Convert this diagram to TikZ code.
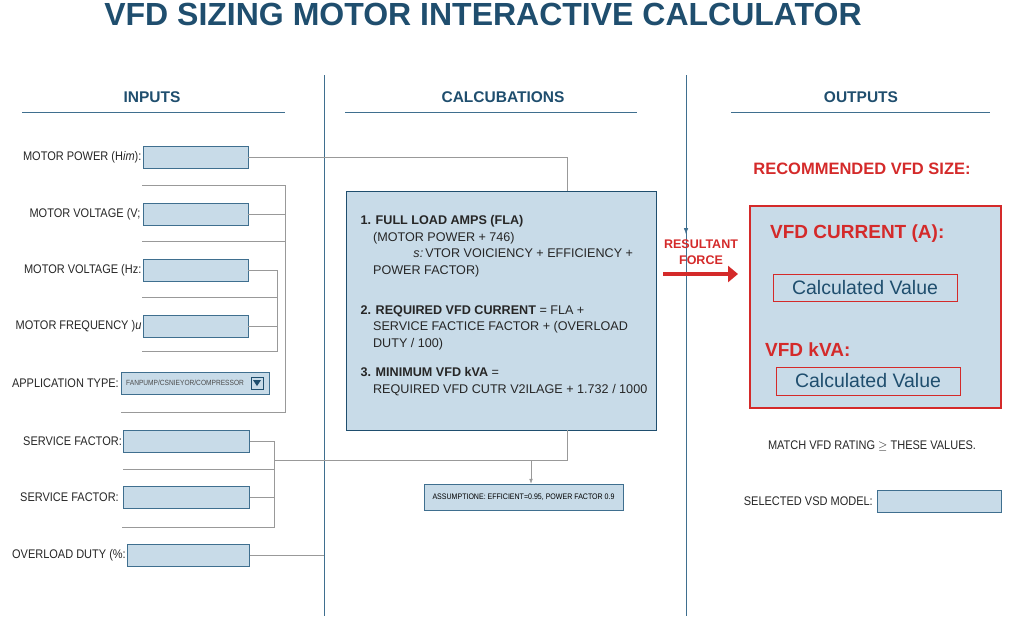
\documentclass[tikz,border=0pt]{standalone}
\usepackage{fontspec}
\setmainfont{Liberation Sans}
\newfontfamily\narrowfont{Liberation Sans}[FakeStretch=0.88]
\usetikzlibrary{positioning,arrows.meta}
\definecolor{navy}{HTML}{1F4E6E}
\definecolor{steel}{HTML}{3F6F8F}
\definecolor{pale}{HTML}{C8DBE8}
\definecolor{alert}{HTML}{D42A2A}
\begin{document}
\begin{tikzpicture}[x=1pt,y=-1pt,>=Latex,
  inbox/.style={draw=steel,fill=pale,thick,minimum width=105pt,minimum height=22pt,inner sep=0pt},
  lbl/.style={font=\narrowfont\fontsize{12.5}{14}\selectfont,text=black!85,inner sep=1pt},
  head/.style={font=\fontsize{15.5}{17}\selectfont\bfseries,text=navy},
  wire/.style={draw=gray!80,thin},
  calc/.style={font=\fontsize{12.6}{16.5}\selectfont,text=black!85,align=left,anchor=north west}]
\useasboundingbox (0,0) rectangle (1024,616);

%Titel und Spalten
\node[font=\fontsize{32}{34}\selectfont\bfseries,text=navy] (title) at (483,14) {VFD SIZING MOTOR INTERACTIVE CALCULATOR};
\draw[steel] (324,75) -- (324,616);
\draw[steel] (686,75) -- (686,616);
\draw[steel,-{Latex[length=6pt]}] (686,75) -- (686,234);
\node[head] (hin) at (152,97) {INPUTS};
\node[head] (hcalc) at (503,97) {CALCUBATIONS};
\node[head] (hout) at (861,97) {OUTPUTS};
\draw[steel] (22,112) -- (285,112);
\draw[steel] (345,112) -- (637,112);
\draw[steel] (731,112) -- (990,112);

%Eingaben
\node[inbox] (power) at (195.5,157) {};
\node[inbox] (volt) at (195.5,214) {};
\node[inbox] (hz) at (195.5,270) {};
\node[inbox] (freq) at (195.5,326) {};
\node[inbox,minimum width=148pt,anchor=west] (app) at (121,383) {};
\node[inbox,minimum width=126pt,anchor=west] (sf1) at (123,441) {};
\node[inbox,minimum width=126pt,anchor=west] (sf2) at (123,497) {};
\node[inbox,minimum width=122pt,anchor=west] (over) at (127,555) {};
\node[lbl,left=0pt of power] {MOTOR POWER (H\textit{im}):};
\node[lbl,left=1pt of volt] {MOTOR VOLTAGE (V;};
\node[lbl,left=0pt of hz] {MOTOR VOLTAGE (Hz:};
\node[lbl,left=0pt of freq] {MOTOR FREQUENCY )\textit{u}};
\node[lbl,left=1pt of app] {APPLICATION TYPE:};
\node[lbl,left=0pt of sf1] {SERVICE FACTOR:};
\node[lbl,left=3pt of sf2] {SERVICE FACTOR:};
\node[lbl,left=0pt of over] {OVERLOAD DUTY (\%:};
\node[font=\narrowfont\fontsize{7.5}{8}\selectfont,text=black!70,anchor=west,inner sep=1pt] at (125,383) {FANPUMP/CSNIEYOR/COMPRESSOR};
\node[draw=navy,fill=pale,minimum size=12pt,inner sep=0pt] (drop) at (257,383) {};
\fill[navy] (253,380) -- (261,380) -- (257,386) -- cycle;

%Klammern
\draw[wire] (142,185) -- (285,185) -- (285,412) -- (121,412);
\draw[wire] (142,241) -- (285,241);
\draw[wire] (volt.east) -- (285,214);
\draw[wire] (hz.east) -- (277,270) -- (277,351) -- (142,351);
\draw[wire] (142,297) -- (277,297);
\draw[wire] (freq.east) -- (277,326);
\draw[wire] (sf1.east) -- (274,441) -- (274,527) -- (122,527);
\draw[wire] (123,469) -- (274,469);
\draw[wire] (sf2.east) -- (274,497);
\draw[wire] (over.east) -- (324,555);

%Berechnung
\node[draw=navy,fill=pale,very thick,minimum width=310pt,minimum height=239pt,anchor=north west,inner sep=0pt] (calcbox) at (346,191) {};
\draw[wire] (power.east) -- (567,157) -- (567,191);
\draw[wire] (274,460) -- (567,460) -- (567,430);
\node[calc] at (357,212) {\textbf{1. FULL LOAD AMPS (FLA)}\\
\quad(MOTOR POWER + 746)\\
\hspace{4.2em}\textit{s:}\,VTOR VOICIENCY + EFFICIENCY +\\
\quad POWER FACTOR)};
\node[calc] at (357,302) {\textbf{2. REQUIRED VFD CURRENT} = FLA +\\
\quad SERVICE FACTICE FACTOR + (OVERLOAD\\
\quad DUTY / 100)};
\node[calc] at (357,364) {\textbf{3. MINIMUM VFD kVA} =\\
\quad REQUIRED VFD CUTR V2ILAGE + 1.732 / 1000};
\node[draw=steel,fill=pale,thick,minimum width=199pt,minimum height=26pt,inner sep=0pt,font=\narrowfont\fontsize{8}{9}\selectfont] (assume) at (523.5,497) {ASSUMPTIONE: EFFICIENT=0.95, POWER FACTOR 0.9};
\draw[gray!80,->] (531,460) -- (assume.north -| 531,0);

%Ausgaben
\node[font=\fontsize{12.5}{16}\selectfont\bfseries,text=alert,align=center] (force) at (701,252) {RESULTANT\\FORCE};
\draw[alert,line width=4pt,-{Triangle[length=10pt,width=16pt]}] (663,274) -- (738,274);
\node[font=\fontsize{16.5}{18}\selectfont\bfseries,text=alert] (rec) at (862,169) {RECOMMENDED VFD SIZE:};
\node[draw=alert,fill=pale,line width=1.5pt,minimum width=251pt,minimum height=202pt,anchor=north west,inner sep=0pt] (outbox) at (749,205) {};
\node[font=\fontsize{19}{21}\selectfont\bfseries,text=alert,anchor=west,inner sep=0pt] (cur) at (770,234) {VFD CURRENT (A):};
\node[draw=alert,thin,minimum width=184pt,minimum height=27pt,inner sep=0pt,font=\fontsize{19.5}{21}\selectfont,text=navy] (val1) at (865,288) {Calculated Value};
\node[font=\fontsize{19}{21}\selectfont\bfseries,text=alert,anchor=west,inner sep=0pt] (kva) at (765,350) {VFD kVA:};
\node[draw=alert,thin,minimum width=184pt,minimum height=28pt,inner sep=0pt,font=\fontsize{19.5}{21}\selectfont,text=navy] (val2) at (868,381) {Calculated Value};
\node[lbl] (match) at (872,446) {MATCH VFD RATING $\geq$ THESE VALUES.};
\node[inbox,minimum width=124pt,anchor=west] (model) at (877,501) {};
\node[lbl,left=3pt of model] {SELECTED VSD MODEL:};
\end{tikzpicture}
\end{document}
